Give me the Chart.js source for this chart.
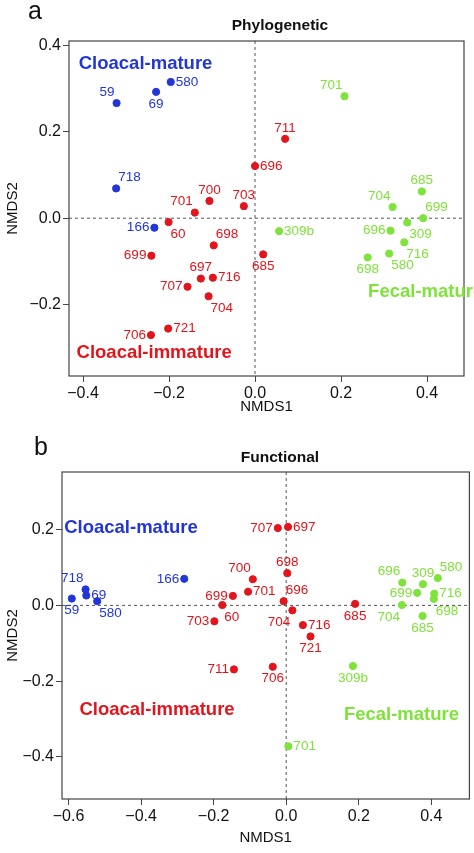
<!DOCTYPE html><html><head><meta charset="utf-8">
<script src="https://cdn.jsdelivr.net/npm/chart.js@4"></script>
<style>body{margin:0;background:#fff}#wa{position:absolute;left:0;top:0;width:474px;height:420px}#wb{position:absolute;left:0;top:420px;width:474px;height:433px}</style>
</head><body><div id="wa"><canvas id="ca"></canvas></div><div id="wb"><canvas id="cb"></canvas></div>
<script>
const BLUE='#2236d8',RED='#e3141c',GREEN='#7ee33a';
// Panel a (Phylogenetic)
const aBlueLab=['580','69','59','718','166'];
const aBlueX=[-0.196,-0.230,-0.322,-0.323,-0.234];
const aBlueY=[0.316,0.293,0.267,0.069,-0.022];
const aBluePos=['r','b','tl','tr','l'];
const aRedLab=['711','696','700','703','701','60','698','699','685','697','716','707','704','721','706'];
const aRedX=[0.070,0,-0.106,-0.026,-0.140,-0.201,-0.096,-0.241,0.019,-0.126,-0.098,-0.157,-0.108,-0.202,-0.242];
const aRedY=[0.184,0.121,0.040,0.028,0.013,-0.009,-0.063,-0.087,-0.084,-0.140,-0.138,-0.159,-0.181,-0.256,-0.271];
const aRedPos=['t','r','t','t','tl','br','tr','l','b','t','r','l','br','r','l'];
const aGreenLab=['701','685','704','699','309','696','716','580','698','309b'];
const aGreenX=[0.208,0.388,0.320,0.391,0.354,0.315,0.347,0.312,0.262,0.056];
const aGreenY=[0.283,0.062,0.026,0,-0.010,-0.029,-0.056,-0.082,-0.091,-0.030];
const aGreenPos=['tl','t','tl','tr','br','l','br','br','b','r'];
const aXTicks=[-0.4,-0.2,0,0.2,0.4], aYTicks=[-0.2,0,0.2,0.4];
// Panel b (Functional)
const bBlueLab=['59','718','69','580','166'];
const bBlueX=[-0.591,-0.553,-0.551,-0.521,-0.281];
const bBlueY=[0.018,0.042,0.026,0.011,0.070];
const bBluePos=['b','tl','r','br','l'];
const bRedLab=['707','697','698','700','701','699','60','703','696','704','716','721','685','711','706'];
const bRedX=[-0.023,0.005,0.003,-0.092,-0.105,-0.147,-0.176,-0.198,-0.007,0.017,0.046,0.067,0.190,-0.144,-0.037];
const bRedY=[0.204,0.207,0.085,0.069,0.036,0.025,0.001,-0.042,0.011,-0.013,-0.052,-0.082,0.004,-0.169,-0.162];
const bRedPos=['l','r','t','tl','r','l','br','l','tr','bl','r','b','b','l','b'];
const bGreenLab=['309b','701','696','309','580','699','716','698','704','685'];
const bGreenX=[0.184,0.006,0.320,0.377,0.418,0.361,0.408,0.407,0.319,0.376];
const bGreenY=[-0.160,-0.372,0.060,0.056,0.072,0.033,0.031,0.017,0.001,-0.028];
const bGreenPos=['b','r','tl','t','tr','l','r','br','bl','b'];
const bXTicks=[-0.6,-0.4,-0.2,0,0.2,0.4], bYTicks=[-0.4,-0.2,0,0.2];

function ds(lab,xs,ys,pos,c){return {data:xs.map((x,i)=>({x,y:ys[i]})),labs:lab,pos,backgroundColor:c,borderColor:c,pointRadius:3.6,pointHoverRadius:3.6};}
const fmt=v=>{const s=Math.abs(v).toFixed(1);return v<0?'\u2212'+s:s;};
const deco={id:'deco',
 beforeDatasetsDraw(ch,a,o){const c=ch.ctx,A=ch.chartArea,x=ch.scales.x,y=ch.scales.y;c.save();
  c.strokeStyle='#555';c.lineWidth=1;c.setLineDash([3,3]);
  c.beginPath();c.moveTo(A.left,y.getPixelForValue(0));c.lineTo(A.right,y.getPixelForValue(0));
  c.moveTo(x.getPixelForValue(0),A.top);c.lineTo(x.getPixelForValue(0),A.bottom);c.stroke();c.restore();},
 afterDatasetsDraw(ch,a,o){const c=ch.ctx,A=ch.chartArea;c.save();
  c.strokeStyle='#444';c.lineWidth=1.2;c.strokeRect(A.left,A.top,A.right-A.left,A.bottom-A.top);
  c.font='13.5px "Liberation Sans",Arial';
  ch.data.datasets.forEach((d,di)=>{const m=ch.getDatasetMeta(di);c.fillStyle=d.borderColor;
   m.data.forEach((p,i)=>{const ps=d.pos[i];let dx=0,dy=0,al='center',bl='middle';
    if(ps.includes('r')){dx=5;al='left';} if(ps.includes('l')){dx=-5;al='right';}
    if(ps.includes('t')){dy=-11;} if(ps.includes('b')){dy=12;}
    if(ps==='t'||ps==='b'){al='center';}
    if(ps==='tl'||ps==='tr'||ps==='bl'||ps==='br'){dx=ps.includes('r')?2:-2;}
    c.textAlign=al;c.textBaseline=bl;c.fillText(d.labs[i],p.x+dx,p.y+dy);});});
  c.font='bold 15.5px "Liberation Sans",Arial';c.fillStyle='#111';c.textAlign='center';c.textBaseline='middle';
  c.fillText(o.title,o.tx,o.ty);
  c.font='25px "Liberation Sans",Arial';c.textAlign='left';c.fillText(o.letter,o.lx,o.ly);
  c.font='bold 18.5px "Liberation Sans",Arial';
  o.groups.forEach(g=>{c.fillStyle=g[1];c.textAlign='left';c.fillText(g[0],ch.scales.x.getPixelForValue(g[2]),ch.scales.y.getPixelForValue(g[3]));});
  c.restore();}};
function make(id,sets,xr,yr,xt,yt,pad,lw,bh,opt){
 return new Chart(document.getElementById(id),{type:'scatter',data:{datasets:sets},plugins:[deco],
  options:{responsive:true,maintainAspectRatio:false,animation:false,layout:{padding:pad},
   plugins:{legend:{display:false},tooltip:{enabled:false},deco:opt},
   scales:{
    x:{min:xr[0],max:xr[1],afterFit:s=>{s.height=bh;},afterBuildTicks:s=>{s.ticks=xt.map(v=>({value:v}));},
     grid:{drawOnChartArea:false,drawTicks:true,tickLength:6,color:'#444'},border:{display:false},
     ticks:{color:'#111',font:{size:16,family:'"Liberation Sans",Arial'},padding:2,callback:fmt,autoSkip:false,maxRotation:0},
     title:{display:true,text:'NMDS1',color:'#111',font:{size:15,family:'"Liberation Sans",Arial'},padding:{top:0}}},
    y:{min:yr[0],max:yr[1],afterFit:s=>{s.width=lw;},afterBuildTicks:s=>{s.ticks=yt.map(v=>({value:v}));},
     grid:{drawOnChartArea:false,drawTicks:true,tickLength:6,color:'#444'},border:{display:false},
     ticks:{color:'#111',font:{size:16,family:'"Liberation Sans",Arial'},padding:2,callback:fmt,autoSkip:false},
     title:{display:true,text:'NMDS2',color:'#111',font:{size:15,family:'"Liberation Sans",Arial'},padding:{bottom:0}}}}}});
}
make('ca',[ds(aBlueLab,aBlueX,aBlueY,aBluePos,BLUE),ds(aRedLab,aRedX,aRedY,aRedPos,RED),ds(aGreenLab,aGreenX,aGreenY,aGreenPos,GREEN)],
 [-0.4326,0.486],[-0.366,0.411],aXTicks,aYTicks,{top:41,right:10,left:0,bottom:0},69,44,
 {title:'Phylogenetic',tx:280,ty:26,letter:'a',lx:28,ly:12,groups:[['Cloacal-mature',BLUE,-0.41,0.359],['Cloacal-immature',RED,-0.415,-0.313],['Fecal-mature',GREEN,0.263,-0.170]]});
make('cb',[ds(bBlueLab,bBlueX,bBlueY,bBluePos,BLUE),ds(bRedLab,bRedX,bRedY,bRedPos,RED),ds(bGreenLab,bGreenX,bGreenY,bGreenPos,GREEN)],
 [-0.618,0.505],[-0.511,0.352],bXTicks,bYTicks,{top:52,right:3,left:0,bottom:2},62,52,
 {title:'Functional',tx:280,ty:38,letter:'b',lx:34,ly:28,groups:[['Cloacal-mature',BLUE,-0.612,0.204],['Cloacal-immature',RED,-0.57,-0.276],['Fecal-mature',GREEN,0.159,-0.289]]});
</script></body></html>
